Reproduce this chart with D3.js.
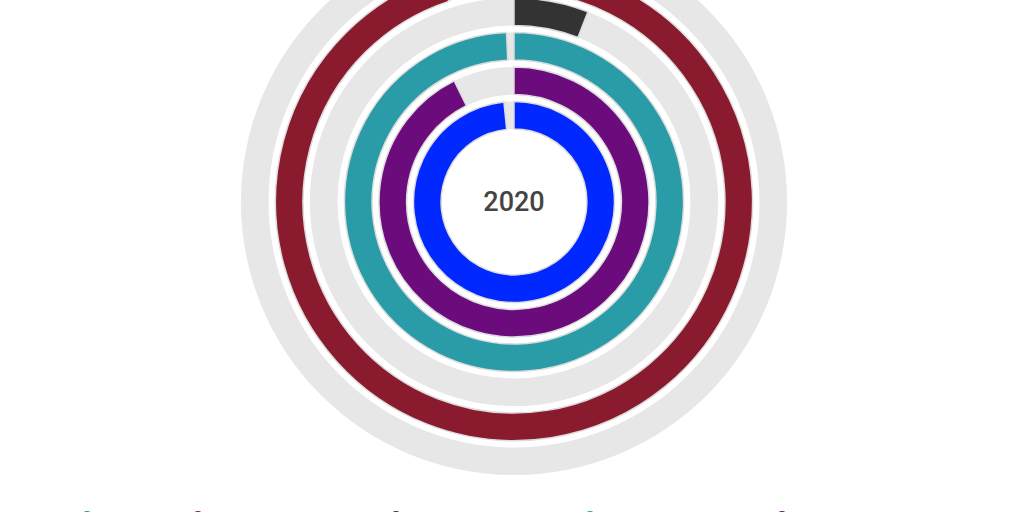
<!DOCTYPE html>
<html>
<head>
<meta charset="utf-8">
<script src="https://cdn.jsdelivr.net/npm/d3@7"></script>
<style>
  body { margin: 0; background: #fff; overflow: hidden; }
  svg { display: block; font-family: Roboto, "Noto Sans", sans-serif; }
</style>
</head>
<body>
<svg id="chart"></svg>
<script>
// Data
const categories = ["Series A", "Series B", "Series C", "Series D", "Series E", "Series F"];
const values = [9.2, 95, 5.9, 99.3, 92.7, 98.4];
const colors = ["#2ca05a", "#8a1a2e", "#333333", "#299ca7", "#6b0b7c", "#0028ff"];
const centerLabel = "2020";
const maxValue = 100;

// Set up dimensions
const width = 1024, height = 512;
const cx = 514, cy = 202;
const innerRadius = 66, outerRadius = 280;

const svg = d3.select("#chart")
    .attr("width", width)
    .attr("height", height);

const g = svg.append("g")
    .attr("transform", `translate(${cx},${cy})`);

// Radius band per category, outermost first
const y = d3.scaleBand()
    .domain(categories)
    .range([outerRadius, innerRadius])
    .padding(0.2);

const angle = d3.scaleLinear()
    .domain([0, maxValue])
    .range([0, 2 * Math.PI]);

const arc = d3.arc()
    .innerRadius(d => y(d.name))
    .outerRadius(d => y(d.name) + y.bandwidth())
    .startAngle(0);

const rows = categories.map((name, i) => ({ name, value: values[i], color: colors[i] }));

// Background tracks
g.selectAll(".track")
    .data(rows)
    .enter()
    .append("path")
    .attr("class", "track")
    .attr("fill", "#e7e7e7")
    .attr("d", d => arc.endAngle(2 * Math.PI)(d));

// Value bars
g.selectAll(".bar")
    .data(rows)
    .enter()
    .append("path")
    .attr("class", "bar")
    .attr("fill", d => d.color)
    .attr("stroke", "#dcdcdc")
    .attr("stroke-width", 1.5)
    .attr("d", d => arc.endAngle(angle(d.value))(d));

// Center label
g.append("text")
    .attr("text-anchor", "middle")
    .attr("dy", "0.35em")
    .attr("fill", "#444")
    .style("font-size", "27px")
    .style("font-weight", 500)
    .text(centerLabel);

// Legend (sits below the visible area, only circle tops show)
const legendX = [87, 198, 396, 590, 782, 87];
const legendY = [517, 517, 517, 517, 517, 545];
const legend = svg.selectAll(".legend")
    .data(rows)
    .enter()
    .append("g")
    .attr("class", "legend")
    .attr("transform", (d, i) => `translate(${legendX[i]},${legendY[i]})`);

legend.append("circle")
    .attr("r", 6)
    .attr("fill", d => d.color);

legend.append("text")
    .attr("x", 12)
    .attr("y", 8)
    .attr("dy", "0.71em")
    .attr("fill", "#444")
    .style("font-size", "12px")
    .text(d => d.name);
</script>
</body>
</html>
